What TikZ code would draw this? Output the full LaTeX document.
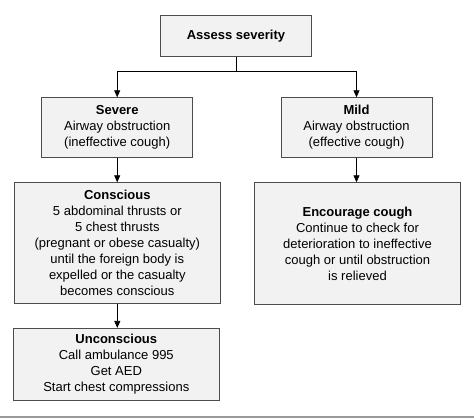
\documentclass[tikz,border=0pt]{standalone}
\usepackage{fontspec}
\setmainfont{Liberation Sans}
\usetikzlibrary{arrows.meta}

\begin{document}
\begin{tikzpicture}[x=1pt,y=-1pt,
    box/.style={draw=black!70,line width=0.8pt,fill=black!5,align=center,inner sep=0pt,
                font=\fontsize{13}{16}\selectfont},
    arr/.style={-{Triangle[length=7pt,width=6pt]},line width=0.8pt}]
    \useasboundingbox (0,0) rectangle (474,418);
    % strip along the bottom edge
    \fill[black!40] (0,416) rectangle (474,418);

    % Boxes:
    \node[box,minimum width=150.6pt,minimum height=41.7pt] (assess) at (236,35.8) {\textbf{Assess severity}};
    \node[box,minimum width=151pt,minimum height=59.6pt] (severe) at (117.2,127.5)
        {\textbf{Severe}\\Airway obstruction\\(ineffective cough)};
    \node[box,minimum width=151pt,minimum height=59.6pt] (mild) at (356.5,127.5)
        {\textbf{Mild}\\Airway obstruction\\(effective cough)};
    \node[box,minimum width=206pt,minimum height=120.6pt] (conscious) at (117.3,243)
        {\textbf{Conscious}\\5 abdominal thrusts or\\5 chest thrusts\\(pregnant or obese casualty)\\until the foreign body is\\expelled or the casualty\\becomes conscious};
    \node[box,minimum width=206.4pt,minimum height=121.6pt] (encourage) at (357.5,243.5)
        {\textbf{Encourage cough}\\Continue to check for\\deterioration to ineffective\\cough or until obstruction\\is relieved};
    \node[box,minimum width=206pt,minimum height=72.4pt] (unconscious) at (116.3,364.5)
        {\textbf{Unconscious}\\Call ambulance 995\\Get AED\\Start chest compressions};

    % Connectors:
    \coordinate (split) at (236,71.7);
    \draw[line width=0.8pt] (assess) -- (split);
    \draw[arr] (split) -| (severe);
    \draw[arr] (split) -| (mild);
    \draw[arr] (severe.south) -- (severe.south |- conscious.north);
    \draw[arr] (mild.south) -- (mild.south |- encourage.north);
    \draw[arr] (conscious.south) -- (conscious.south |- unconscious.north);
\end{tikzpicture}
\end{document}
